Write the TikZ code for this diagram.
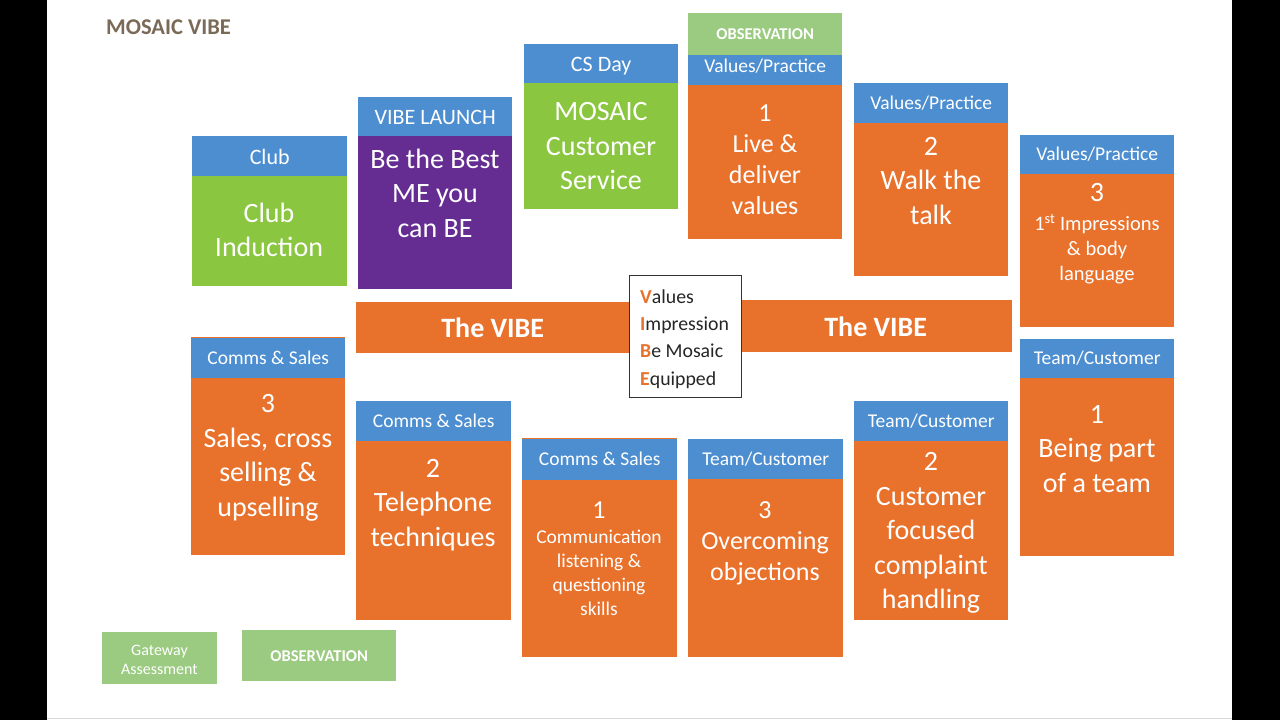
\documentclass[tikz,border=0pt]{standalone}
\usepackage{fontspec}
\setmainfont{Carlito}
\definecolor{hblue}{HTML}{4C8ED0}
\definecolor{vorange}{HTML}{E8712C}
\definecolor{vgreen}{HTML}{8AC640}
\definecolor{vpurple}{HTML}{652C91}
\definecolor{lgreen}{HTML}{9BCB80}
\definecolor{titlec}{HTML}{7A6A57}
\newcommand\mybox[7]{\node[#1,anchor=north west,inner sep=0pt,minimum width={(#5-#3)*1pt},minimum height={(#6-#4)*1pt}] (#2) at (#3,#4) {#7};}
\begin{document}
\begin{tikzpicture}[x=1pt,y=-1pt,
  hdr/.style={fill=hblue,text=white,font=\fontsize{19.5}{22}\selectfont,text height=11.8pt,text depth=0pt},
  hdrL/.style={fill=hblue,text=white,font=\fontsize{22}{26}\selectfont,text height=16.5pt,text depth=0pt},
  obody/.style={fill=vorange},
  gbody/.style={fill=vgreen},
  pbody/.style={fill=vpurple},
  obs/.style={fill=lgreen,text=white,font=\bfseries\fontsize{16.5}{19}\selectfont,text height=10.6pt,text depth=0pt},
  bar/.style={fill=vorange,text=white,font=\bfseries\fontsize{28}{32}\selectfont,text height=19pt,text depth=0pt},
  big/.style={text=white,align=center,inner sep=0pt,font=\fontsize{28}{34.5}\selectfont},
  mid/.style={text=white,align=center,inner sep=0pt,font=\fontsize{26}{31}\selectfont},
  small/.style={text=white,align=center,inner sep=0pt,font=\fontsize{20}{24.5}\selectfont}]
\useasboundingbox (0,0) rectangle (1280,720);
\fill[white] (0,0) rectangle (1280,720);
\fill[black] (0,0) rectangle (47,720);
\fill[black] (1232,0) rectangle (1280,720);
\draw[black!15] (47,718) -- (1232,718);

\node[font=\bfseries\fontsize{22.5}{26}\selectfont,text=titlec,anchor=west,inner sep=0pt] (title) at (106,27) {MOSAIC VIBE};

% Club
\mybox{hdrL}{clubh}{192}{136}{347}{176}{Club}
\mybox{gbody}{clubb}{192}{176}{347}{286}{}
\node[big] (clubt) at (269,230) {Club\\Induction};
% VIBE LAUNCH
\mybox{hdrL}{launchh}{358}{97}{512}{136}{VIBE LAUNCH}
\mybox{pbody}{launchb}{358}{136}{512}{289}{}
\node[big] (launcht) at (435,193) {Be the Best\\ME you\\can BE};
% CS Day
\mybox{hdrL}{csh}{524}{44}{678}{83}{CS Day}
\mybox{gbody}{csb}{524}{83}{678}{209}{}
\node[big] (cst) at (601,146.5) {MOSAIC\\Customer\\Service};
% Values/Practice 1
\mybox{hdr}{vp1h}{688}{47}{842}{85}{Values/Practice}
\mybox{obs}{obstop}{688}{13}{842}{55}{OBSERVATION}
\mybox{obody}{vp1b}{688}{85}{842}{239}{}
\node[mid] (vp1t) at (765,159.5) {1\\Live \&\\deliver\\values};
% Values/Practice 2
\mybox{hdr}{vp2h}{854}{83}{1008}{123}{Values/Practice}
\mybox{obody}{vp2b}{854}{123}{1008}{276}{}
\node[big] (vp2t) at (931,181) {2\\Walk the\\talk};
% Values/Practice 3
\mybox{hdr}{vp3h}{1020}{135}{1174}{174}{Values/Practice}
\mybox{obody}{vp3b}{1020}{174}{1174}{327}{}
\node[big] (vp3n) at (1097,193) {3};
\node[small,font=\fontsize{20.5}{25}\selectfont] (vp3t) at (1097,249) {1\textsuperscript{st} Impressions\\\& body\\language};
% The VIBE bars
\mybox{bar}{barl}{356}{302}{629}{353}{The VIBE}
\mybox{bar,text height=21.5pt}{barr}{739}{300}{1012}{352}{The VIBE}
% central box
\mybox{fill=white,draw=black!80,line width=1pt}{vibe}{629}{275}{741}{397}{}
\node[anchor=west,align=left,inner sep=0pt,text=black!85,font=\fontsize{19.8}{27.4}\selectfont] (vibet) at (640,339)
 {{\color{vorange}\bfseries V}alues\\{\color{vorange}\bfseries I}mpression\\{\color{vorange}\bfseries B}e Mosaic\\{\color{vorange}\bfseries E}quipped};
% Comms 3
\mybox{obody}{cm3b}{191}{337}{345}{555}{}
\mybox{hdr}{cm3h}{191}{338}{345}{378}{Comms \& Sales}
\node[big] (cm3t) at (268,458) {3\\Sales, cross\\selling \&\\upselling};
% Comms 2
\mybox{hdr}{cm2h}{356}{401}{511}{441}{Comms \& Sales}
\mybox{obody}{cm2b}{356}{441}{511}{620}{}
\node[big] (cm2t) at (433,505) {2\\Telephone\\techniques};
% Comms 1
\mybox{obody}{cm1b}{522}{438}{677}{657}{}
\mybox{hdr}{cm1h}{522}{439}{677}{480}{Comms \& Sales}
\node[mid] (cm1n) at (599,510) {1};
\node[small,font=\fontsize{19.5}{24}\selectfont] (cm1t) at (599,572.5) {Communication\\listening \&\\questioning\\skills};
% Team 3
\mybox{hdr}{tc3h}{688}{439}{843}{479}{Team/Customer}
\mybox{obody}{tc3b}{688}{479}{843}{657}{}
\node[mid] (tc3t) at (765,543) {3\\Overcoming\\objections};
% Team 2
\mybox{hdr}{tc2h}{854}{401}{1008}{441}{Team/Customer}
\mybox{obody}{tc2b}{854}{441}{1008}{620}{}
\node[big] (tc2t) at (931,533) {2\\Customer\\focused\\complaint\\handling};
% Team 1
\mybox{hdr}{tc1h}{1020}{339}{1174}{378}{Team/Customer}
\mybox{obody}{tc1b}{1020}{378}{1174}{556}{}
\node[big] (tc1t) at (1097,449) {1\\Being part\\of a team};
% bottom
\mybox{fill=lgreen}{gate}{102}{632}{217}{684}{}
\node[text=white,align=center,inner sep=0pt,font=\fontsize{16}{19}\selectfont] (gatet) at (159.5,660) {Gateway\\Assessment};
\mybox{obs}{obsbot}{242}{630}{396}{681}{OBSERVATION}
\end{tikzpicture}
\end{document}
